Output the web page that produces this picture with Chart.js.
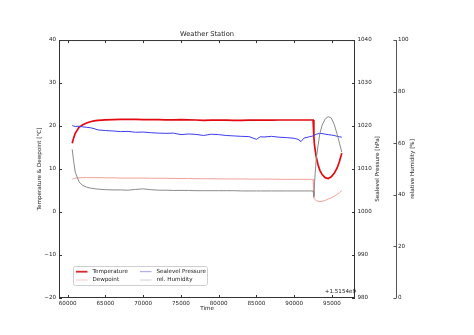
<!DOCTYPE html>
<html>
<head>
<meta charset="utf-8">
<script src="https://cdn.jsdelivr.net/npm/chart.js@4.4.0/dist/chart.umd.min.js"></script>
<style>
  html, body { margin: 0; padding: 0; background: #fff; }
  canvas { display: block; }
</style>
</head>
<body>
<canvas id="weatherChart" width="474" height="335"></canvas>
<script>
'use strict';

// time stamps, offset from 1.5154e9 s
var times = [60600, 60800, 61000, 61500, 62000, 62500, 63000, 63500, 64000, 65000,
  66000, 67000, 68000, 69000, 70000, 71000, 72000, 73000, 74000, 75000,
  76000, 77000, 78000, 79000, 80000, 81000, 82000, 83000, 84000, 85000,
  85500, 86000, 87000, 88000, 89000, 90000, 90500, 90900, 91300, 92000,
  92500, 92600, 92700, 92900, 93150, 93400, 93700, 94100, 94500, 94900,
  95300, 95700, 96000, 96300];

var temperature = [16.0, 17.3, 18.3, 19.7, 20.3, 20.7, 21.0, 21.2, 21.3, 21.45,
  21.5, 21.55, 21.55, 21.55, 21.5, 21.5, 21.5, 21.45, 21.45, 21.5,
  21.45, 21.4, 21.3, 21.35, 21.4, 21.35, 21.3, 21.3, 21.35, 21.35,
  21.35, 21.35, 21.35, 21.4, 21.4, 21.4, 21.4, 21.4, 21.4, 21.4,
  21.4, 17.5, 15.3, 13.0, 11.0, 9.7, 8.7, 8.0, 7.8, 8.2,
  9.0, 10.3, 11.8, 13.7];

var dewpoint = [7.6, 7.8, 7.9, 7.95, 8.0, 8.0, 8.0, 8.0, 8.0, 7.95,
  7.95, 7.9, 7.9, 7.9, 7.9, 7.85, 7.85, 7.85, 7.8, 7.8,
  7.8, 7.75, 7.75, 7.75, 7.7, 7.7, 7.7, 7.7, 7.65, 7.65,
  7.65, 7.65, 7.65, 7.6, 7.6, 7.6, 7.6, 7.6, 7.6, 7.6,
  7.6, 3.3, 3.0, 2.7, 2.5, 2.4, 2.5, 2.7, 3.0, 3.3,
  3.7, 4.1, 4.5, 5.0];

var pressure = [1020.1, 1020.0, 1019.9, 1019.95, 1019.8, 1019.7, 1019.6, 1019.4, 1019.1, 1018.95,
  1018.85, 1018.7, 1018.75, 1018.55, 1018.6, 1018.45, 1018.35, 1018.3, 1018.35, 1018.0,
  1018.15, 1018.05, 1017.8, 1018.1, 1018.0, 1017.8, 1017.7, 1017.6, 1017.55, 1016.9,
  1017.5, 1017.45, 1017.6, 1017.4, 1017.3, 1017.15, 1016.9, 1016.4, 1017.2, 1017.5,
  1017.7, 1017.8, 1017.9, 1018.05, 1018.2, 1018.3, 1018.25, 1018.1, 1018.0, 1017.9,
  1017.8, 1017.6, 1017.5, 1017.4];

var humidity = [57.6, 52.8, 48.8, 45.0, 43.6, 43.0, 42.6, 42.4, 42.2, 42.0,
  41.9, 41.9, 41.8, 42.1, 42.3, 42.0, 41.8, 41.8, 41.7, 41.7,
  41.7, 41.6, 41.6, 41.6, 41.6, 41.6, 41.6, 41.5, 41.5, 41.5,
  41.5, 41.5, 41.5, 41.5, 41.5, 41.5, 41.5, 41.5, 41.5, 41.5,
  41.5, 39.3, 45.0, 53.5, 59.0, 63.8, 67.0, 69.4, 70.3, 69.8,
  67.3, 63.3, 60.0, 56.5];

var xTicks = [60000, 65000, 70000, 75000, 80000, 85000, 90000, 95000];
var xOffsetText = '+1.5154e9';

var FONT = 'DejaVu Sans';
var SMALL = 5.6;
var TEXT = '#1a1a1a';

function toPoints(values) {
  var pts = [];
  for (var i = 0; i < times.length; i++) {
    pts.push({x: times[i], y: values[i]});
  }
  return pts;
}

function minus(v) {
  return String(v).replace('-', '\u2212');
}

// spines, inward ticks, right-hand labels and the legend box
var frameAndLegend = {
  id: 'frameAndLegend',
  afterDatasetsDraw: function(chart) {
    var ctx = chart.ctx;
    var a = chart.chartArea;
    var sx = chart.scales.x, sy = chart.scales.y, sp = chart.scales.y1, sh = chart.scales.y2;
    ctx.save();
    ctx.strokeStyle = '#333';
    ctx.lineWidth = 1;
    ctx.strokeRect(a.left + 0.5, a.top + 0.5, a.right - a.left - 1, a.bottom - a.top - 1);

    ctx.beginPath();
    sx.ticks.forEach(function(t) {
      var px = Math.round(sx.getPixelForValue(t.value)) + 0.5;
      ctx.moveTo(px, a.bottom); ctx.lineTo(px, a.bottom - 3);
      ctx.moveTo(px, a.top); ctx.lineTo(px, a.top + 3);
    });
    sy.ticks.forEach(function(t) {
      var py = Math.round(sy.getPixelForValue(t.value)) + 0.5;
      ctx.moveTo(a.left, py); ctx.lineTo(a.left + 3, py);
    });
    sp.ticks.forEach(function(t) {
      var py = Math.round(sp.getPixelForValue(t.value)) + 0.5;
      ctx.moveTo(a.right, py); ctx.lineTo(a.right - 3, py);
    });
    ctx.stroke();

    // humidity spine
    ctx.strokeStyle = '#555';
    ctx.beginPath();
    var hx = Math.round(sh.left) + 0.5;
    ctx.moveTo(hx, a.top); ctx.lineTo(hx, a.bottom);
    sh.ticks.forEach(function(t) {
      var py = Math.round(sh.getPixelForValue(t.value)) + 0.5;
      ctx.moveTo(hx, py); ctx.lineTo(hx - 3, py);
    });
    ctx.stroke();

    ctx.fillStyle = TEXT;
    ctx.font = SMALL + 'px "' + FONT + '"';
    ctx.textAlign = 'center';
    ctx.textBaseline = 'middle';
    var midY = (a.top + a.bottom) / 2;
    ctx.save();
    ctx.translate(sp.left + 22.3, midY);
    ctx.rotate(-Math.PI / 2);
    ctx.fillText('Sealevel Pressure [hPa]', 0, 0);
    ctx.restore();
    ctx.save();
    ctx.translate(sh.left + 17, midY);
    ctx.rotate(-Math.PI / 2);
    ctx.fillText('relative Humidity [%]', 0, 0);
    ctx.restore();

    ctx.textAlign = 'right';
    ctx.fillText(xOffsetText, a.right + 1, a.bottom - 6.5);

    // legend
    var bx = 73, by = 266, bw = 134, bh = 19;
    ctx.fillStyle = 'rgba(255,255,255,0.85)';
    ctx.strokeStyle = '#cfcfcf';
    ctx.beginPath();
    ctx.roundRect(bx + 0.5, by + 0.5, bw, bh, 2);
    ctx.fill();
    ctx.stroke();
    var handleColors = ['#d8262b', '#f6c9c4', '#9d9de6', '#d2d2d2'];
    var handleWidths = [1.8, 1, 1, 1];
    var cols = [76, 140];
    var rows = [271.7, 280];
    ctx.textAlign = 'left';
    chart.data.datasets.forEach(function(ds, i) {
      var cx = cols[Math.floor(i / 2)];
      var cy = rows[i % 2];
      ctx.strokeStyle = handleColors[i];
      ctx.lineWidth = handleWidths[i];
      ctx.beginPath();
      ctx.moveTo(cx, cy); ctx.lineTo(cx + 11.5, cy);
      ctx.stroke();
      ctx.fillStyle = TEXT;
      ctx.fillText(ds.label, cx + 16.5, cy);
    });
    ctx.restore();
  }
};

var ctx = document.getElementById('weatherChart').getContext('2d');
var weatherChart = new Chart(ctx, {
  type: 'line',
  data: {
    datasets: [{
      label: 'Temperature',
      data: toPoints(temperature),
      yAxisID: 'y',
      borderColor: 'rgb(228, 8, 16)',
      borderWidth: 1.7,
      pointRadius: 0,
      order: 3
    }, {
      label: 'Dewpoint',
      data: toPoints(dewpoint),
      yAxisID: 'y',
      borderColor: '#f2a09a',
      borderWidth: 1,
      pointRadius: 0,
      order: 4
    }, {
      label: 'Sealevel Pressure',
      data: toPoints(pressure),
      yAxisID: 'y1',
      borderColor: '#3c3cee',
      borderWidth: 1,
      pointRadius: 0,
      order: 2
    }, {
      label: 'rel. Humidity',
      data: toPoints(humidity),
      yAxisID: 'y2',
      borderColor: '#8a8a8a',
      borderWidth: 1,
      pointRadius: 0,
      order: 1
    }]
  },
  options: {
    responsive: false,
    animation: false,
    layout: { padding: 0, autoPadding: false },
    plugins: {
      legend: { display: false },
      tooltip: { enabled: false },
      title: {
        display: true,
        text: 'Weather Station',
        fullSize: false,
        color: TEXT,
        font: { family: FONT, size: 6.7, weight: 'normal' },
        padding: { top: 30, bottom: 2 }
      }
    },
    scales: {
      x: {
        type: 'linear',
        min: 58850,
        max: 98050,
        grid: { display: false, drawTicks: false },
        border: { display: false },
        afterBuildTicks: function(s) {
          s.ticks = xTicks.map(function(v) { return {value: v}; });
        },
        afterFit: function(s) { s.height = 37; },
        ticks: {
          color: TEXT,
          font: { family: FONT, size: SMALL },
          padding: 2,
          maxRotation: 0,
          autoSkip: false,
          callback: function(v) { return String(v); }
        },
        title: {
          display: true,
          text: 'Time',
          color: TEXT,
          font: { family: FONT, size: SMALL },
          padding: { top: 0, bottom: 23.1 }
        }
      },
      y: {
        position: 'left',
        min: -20,
        max: 40,
        grid: { display: false, drawTicks: false },
        border: { display: false },
        afterFit: function(s) { s.width = 59; },
        ticks: {
          stepSize: 10,
          color: TEXT,
          font: { family: FONT, size: SMALL },
          padding: 3,
          callback: minus
        },
        title: {
          display: true,
          text: 'Temperature & Dewpoint [°C]',
          color: TEXT,
          font: { family: FONT, size: SMALL },
          padding: { top: 36.3, bottom: 0 }
        }
      },
      y1: {
        position: 'right',
        min: 980,
        max: 1040,
        grid: { display: false, drawTicks: false },
        border: { display: false },
        afterFit: function(s) { s.width = 41; },
        ticks: {
          stepSize: 10,
          color: TEXT,
          font: { family: FONT, size: SMALL },
          padding: 2.5,
          callback: function(v) { return String(v); }
        }
      },
      y2: {
        position: 'right',
        min: 0,
        max: 100,
        grid: { display: false, drawTicks: false },
        border: { display: false },
        afterFit: function(s) { s.width = 78; },
        ticks: {
          stepSize: 20,
          color: TEXT,
          font: { family: FONT, size: SMALL },
          padding: 2,
          callback: function(v) { return String(v); }
        }
      }
    }
  },
  plugins: [frameAndLegend]
});
</script>
</body>
</html>
